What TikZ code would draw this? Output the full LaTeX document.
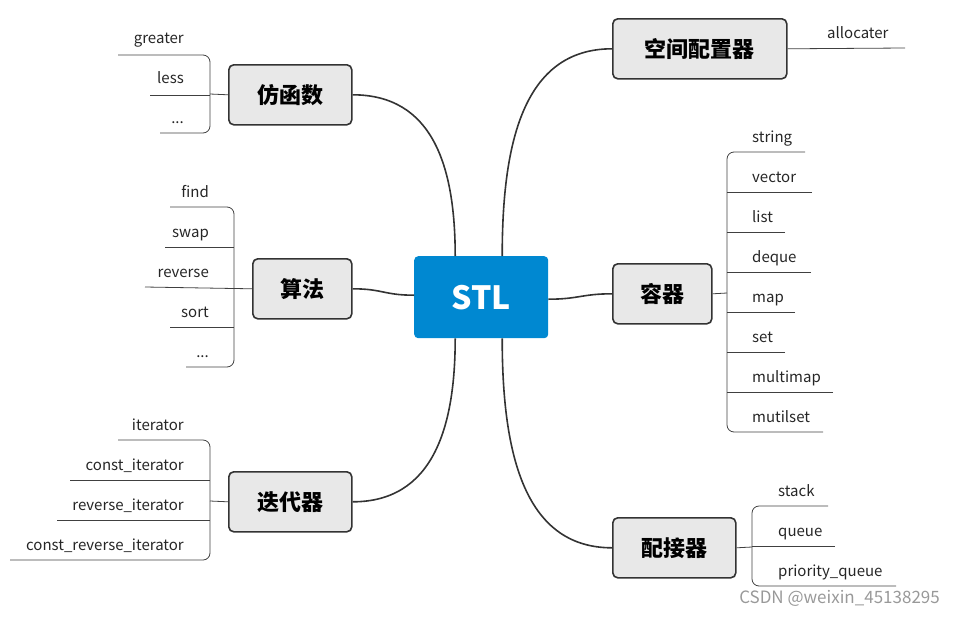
\documentclass[tikz,border=0pt]{standalone}
\usepackage{fontspec}
\setmainfont{Noto Sans CJK SC}
\begin{document}
\begin{tikzpicture}[x=1pt,y=-1pt,
  topic/.style={draw=black!80,line width=1.6pt,fill=black!9,rounded corners=5pt,font=\fontsize{22}{24}\selectfont\bfseries,inner sep=0pt,anchor=north west},
  conn/.style={draw=black!80,line width=1.6pt},
  leafline/.style={draw=black!75,line width=0.8pt,rounded corners=7pt},
  leafL/.style={anchor=base east,font=\fontsize{15}{17}\selectfont,text=black!85,inner sep=0pt},
  leafR/.style={anchor=base west,font=\fontsize{15}{17}\selectfont,text=black!85,inner sep=0pt}]
\useasboundingbox (0,0) rectangle (955,616);
% central
\node[fill={rgb,255:red,0;green,136;blue,209},rounded corners=4pt,minimum width=134pt,minimum height=82pt,anchor=north west,text=white,font=\fontsize{32}{34}\selectfont\bfseries,inner sep=0pt] (stl) at (414,256) {STL};
% topics
\node[topic,minimum width=123pt,minimum height=60pt] (fhs) at (228,64) {仿函数};
\node[topic,minimum width=99pt,minimum height=60pt] (sf) at (252,258) {算法};
\node[topic,minimum width=123pt,minimum height=60pt] (ddq) at (228,471) {迭代器};
\node[topic,minimum width=174pt,minimum height=60pt] (kj) at (612,18) {空间配置器};
\node[topic,minimum width=99pt,minimum height=60pt] (rq) at (612,263) {容器};
\node[topic,minimum width=123pt,minimum height=60pt] (pjq) at (612,517) {配接器};
% main connectors
\draw[conn] (fhs.east) .. controls +(80,0) and +(0,-90) .. ([xshift=-26pt]stl.north);
\draw[conn] (sf.east) .. controls +(30,0) and +(-30,0) .. ([yshift=2pt]stl.west);
\draw[conn] (ddq.east) .. controls +(80,0) and +(0,90) .. ([xshift=-26pt]stl.south);
\draw[conn] (kj.west) .. controls +(-90,0) and +(0,-110) .. ([xshift=21pt]stl.north);
\draw[conn] (rq.west) .. controls +(-30,0) and +(30,0) .. ([yshift=-2pt]stl.east);
\draw[conn] (pjq.west) .. controls +(-90,0) and +(0,110) .. ([xshift=21pt]stl.south);
% 仿函数 leaves
\node[leafL] (l1) at (184,43) {greater};
\node[leafL] (l2) at (184,83) {less};
\node[leafL] (l3) at (184,123) {...};
\coordinate (b1) at (210,94);
\draw[leafline] (118,55) -- (210,55) -- (210,133) -- (160,133);
\draw[leafline] (150,95) -- (210,95);
\draw[leafline] (b1) -- (fhs.west);
% 算法 leaves
\node[leafL] (a1) at (209,197) {find};
\node[leafL] (a2) at (209,237) {swap};
\node[leafL] (a3) at (209,277) {reverse};
\node[leafL] (a4) at (209,317) {sort};
\node[leafL] (a5) at (209,357) {...};
\draw[leafline] (170,207) -- (234,207) -- (234,367) -- (186,367);
\draw[leafline] (165,247) -- (234,247);
\draw[leafline] (145,287) -- (sf.west);
\draw[leafline] (170,327) -- (234,327);
% 迭代器 leaves
\node[leafL] (i1) at (184,430) {iterator};
\node[leafL] (i2) at (184,470) {const\_iterator};
\node[leafL] (i3) at (184,510) {reverse\_iterator};
\node[leafL] (i4) at (184,550) {const\_reverse\_iterator};
\draw[leafline] (118,440) -- (210,440) -- (210,560) -- (10,560);
\draw[leafline] (70,480) -- (210,480);
\draw[leafline] (57,520) -- (210,520);
\draw[leafline] (210,501) -- (ddq.west);
% 空间配置器
\node[leafR] (al) at (827,38) {allocater};
\draw[leafline] (kj.east) -- (905,48);
% 容器 leaves
\foreach \t/\r [count=\i from 0] in {string/805,vector/812,list/785,deque/811,map/795,set/785,multimap/833,mutilset/823}{
  \node[leafR] (c\i) at (752,142+40*\i) {\t};
}
\draw[leafline] (805,152) -- (727,152) -- (727,432) -- (823,432);
\draw[leafline] (812,192) -- (727,192);
\draw[leafline] (785,232) -- (727,232);
\draw[leafline] (811,272) -- (727,272);
\draw[leafline] (795,312) -- (727,312);
\draw[leafline] (785,352) -- (727,352);
\draw[leafline] (833,392) -- (727,392);
\draw[leafline] (rq.east) -- (727,293);
% 配接器 leaves
\node[leafR] (p1) at (778,496) {stack};
\node[leafR] (p2) at (778,536) {queue};
\node[leafR] (p3) at (778,576) {priority\_queue};
\draw[leafline] (828,506) -- (752,506) -- (752,586) -- (896,586);
\draw[leafline] (835,546) -- (752,546);
\draw[leafline] (pjq.east) -- (752,547);
% watermark
\node[anchor=base east,font=\fontsize{17}{19}\selectfont,text=black!40,inner sep=0pt] (wm) at (940,603) {CSDN @weixin\_45138295};
\end{tikzpicture}
\end{document}
